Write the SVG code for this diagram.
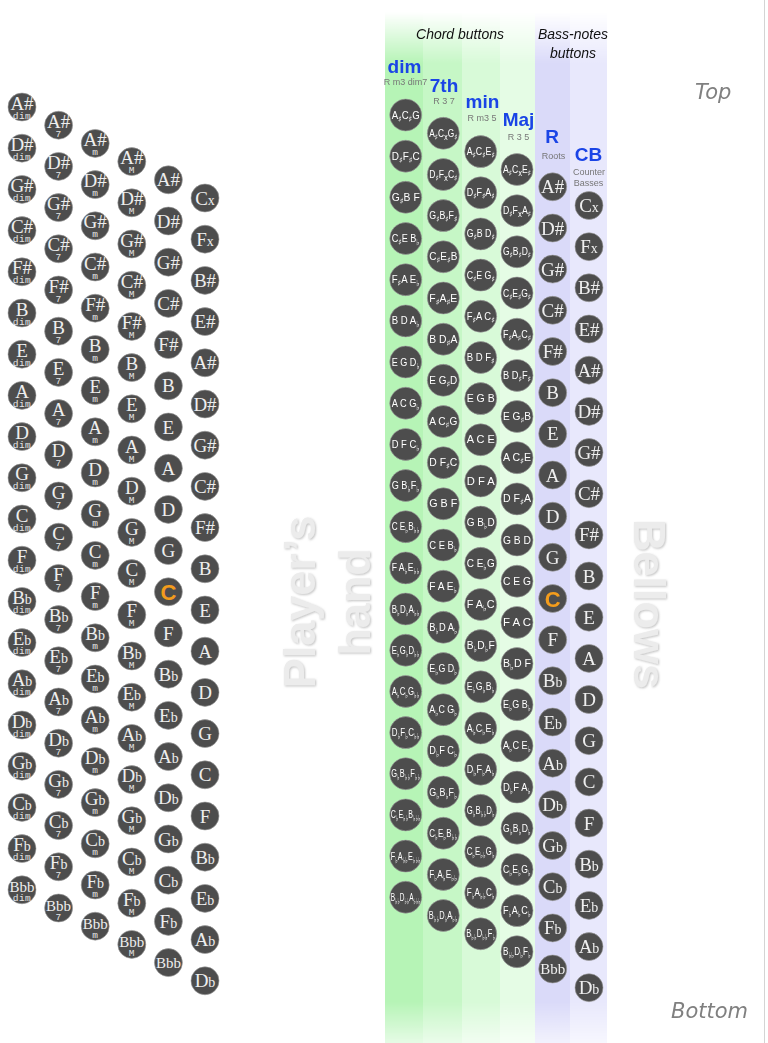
<svg xmlns="http://www.w3.org/2000/svg" width="768" height="1043" viewBox="0 0 768 1043">
<style>
.b{fill:#4d4d4d;stroke:#a0a0a0;stroke-width:.6}
.t{font-family:"Liberation Serif","Times New Roman",serif;font-size:19px;fill:#eeeeee;text-anchor:middle}
.s{font-family:"Liberation Mono","Courier New",monospace;font-size:9.5px;letter-spacing:.4px;fill:#e6e6e6}
.k{font-size:14px}
.z{font-size:15px}
.o{font-family:"Liberation Sans",Arial,sans-serif;font-weight:bold;font-size:22px;fill:#f39c1c;text-anchor:middle}
.c{font-family:"Liberation Sans","DejaVu Sans",sans-serif;font-size:11px;fill:#fff;text-anchor:middle}
.u{font-family:"DejaVu Sans",sans-serif;font-size:8.5px;baseline-shift:-3px}
.h{font-family:"Liberation Sans",Arial,sans-serif;font-style:italic;font-size:14px;fill:#111;text-anchor:middle}
.bl{font-family:"Liberation Sans",Arial,sans-serif;font-weight:bold;font-size:19px;fill:#1a44e6;text-anchor:middle}
.g{font-family:"Liberation Sans",Arial,sans-serif;font-size:9px;fill:#777;text-anchor:middle}
.w{font-family:"Liberation Sans",Arial,sans-serif;font-weight:bold;font-size:45px;fill:#ececec;text-anchor:middle}
.tb{font-family:"DejaVu Sans",sans-serif;font-style:italic;font-size:21px;fill:#808080}
</style>
<defs>
<linearGradient id="fade" gradientUnits="userSpaceOnUse" x1="0" y1="12" x2="0" y2="1043">
<stop offset="0" stop-color="#fff" stop-opacity="0"/>
<stop offset="0.05" stop-color="#fff" stop-opacity="1"/>
<stop offset="0.96" stop-color="#fff" stop-opacity="1"/>
<stop offset="1" stop-color="#fff" stop-opacity="0.35"/>
</linearGradient>
<mask id="m"><rect x="380" y="0" width="240" height="1043" fill="url(#fade)"/></mask>
<filter id="sh" x="-20%" y="-20%" width="140%" height="140%"><feDropShadow dx="1" dy="1" stdDeviation="1.2" flood-color="#999" flood-opacity="0.6"/></filter>
</defs>
<rect width="768" height="1043" fill="#fff"/>
<line x1="764.5" y1="0" x2="764.5" y2="1043" stroke="#d4d4d4" stroke-width="1"/>
<g id="strips" mask="url(#m)">
<rect x="385" y="12" width="38" height="1031" fill="#b6f4b6"/>
<rect x="423" y="12" width="39" height="1031" fill="#c6f7c6"/>
<rect x="462" y="12" width="38" height="1031" fill="#d8fad8"/>
<rect x="500" y="12" width="35" height="1031" fill="#e5fce5"/>
<rect x="535" y="12" width="35" height="1031" fill="#dadaf9"/>
<rect x="570" y="12" width="37" height="1031" fill="#e8e8fc"/>
</g>
<g id="watermarks" filter="url(#sh)">
<text class="w" transform="translate(315,602) rotate(-90)">Player’s<tspan x="0" dy="55">hand</tspan></text>
<text class="w" transform="translate(634,604) rotate(90)">Bellows</text>
</g>
<g id="labels">
<text class="tb" x="695" y="99">Top</text>
<text class="tb" x="671" y="1018">Bottom</text>
<text class="h" x="460" y="39">Chord buttons</text>
<text class="h" x="573" y="39">Bass-notes<tspan x="573" y="58">buttons</tspan></text>
<text class="bl" x="404.5" y="73">dim</text><text class="g" x="405.5" y="85">R m3 dim7</text>
<text class="bl" x="444" y="92">7th</text><text class="g" x="444" y="104">R 3 7</text>
<text class="bl" x="482.5" y="108">min</text><text class="g" x="482" y="121">R m3 5</text>
<text class="bl" x="518.5" y="126">Maj</text><text class="g" x="518.5" y="140">R 3 5</text>
<text class="bl" x="552" y="143">R</text><text class="g" x="553.5" y="159">Roots</text>
<text class="bl" x="588.5" y="161">CB</text><text class="g" x="589" y="175">Counter<tspan x="588.5" y="186">Basses</tspan></text>
</g>
<g id="connectors"/>
<g id="left-dim">
<g id="ld01" transform="translate(22,107)"><circle class="b" r="14"/><text class="t" y="2.5">A#<tspan class="s" x="0" y="11.5">dim</tspan></text></g>
<g id="ld02" transform="translate(22,148.2)"><circle class="b" r="14"/><text class="t" y="2.5">D#<tspan class="s" x="0" y="11.5">dim</tspan></text></g>
<g id="ld03" transform="translate(22,189.4)"><circle class="b" r="14"/><text class="t" y="2.5">G#<tspan class="s" x="0" y="11.5">dim</tspan></text></g>
<g id="ld04" transform="translate(22,230.6)"><circle class="b" r="14"/><text class="t" y="2.5">C#<tspan class="s" x="0" y="11.5">dim</tspan></text></g>
<g id="ld05" transform="translate(22,271.8)"><circle class="b" r="14"/><text class="t" y="2.5">F#<tspan class="s" x="0" y="11.5">dim</tspan></text></g>
<g id="ld06" transform="translate(22,313)"><circle class="b" r="14"/><text class="t" y="2.5">B<tspan class="s" x="0" y="11.5">dim</tspan></text></g>
<g id="ld07" transform="translate(22,354.2)"><circle class="b" r="14"/><text class="t" y="2.5">E<tspan class="s" x="0" y="11.5">dim</tspan></text></g>
<g id="ld08" transform="translate(22,395.4)"><circle class="b" r="14"/><text class="t" y="2.5">A<tspan class="s" x="0" y="11.5">dim</tspan></text></g>
<g id="ld09" transform="translate(22,436.6)"><circle class="b" r="14"/><text class="t" y="2.5">D<tspan class="s" x="0" y="11.5">dim</tspan></text></g>
<g id="ld10" transform="translate(22,477.8)"><circle class="b" r="14"/><text class="t" y="2.5">G<tspan class="s" x="0" y="11.5">dim</tspan></text></g>
<g id="ld11" transform="translate(22,519)"><circle class="b" r="14"/><text class="t" y="2.5">C<tspan class="s" x="0" y="11.5">dim</tspan></text></g>
<g id="ld12" transform="translate(22,560.2)"><circle class="b" r="14"/><text class="t" y="2.5">F<tspan class="s" x="0" y="11.5">dim</tspan></text></g>
<g id="ld13" transform="translate(22,601.4)"><circle class="b" r="14"/><text class="t" y="2.5">B<tspan class="k">b</tspan><tspan class="s" x="0" y="11.5">dim</tspan></text></g>
<g id="ld14" transform="translate(22,642.6)"><circle class="b" r="14"/><text class="t" y="2.5">E<tspan class="k">b</tspan><tspan class="s" x="0" y="11.5">dim</tspan></text></g>
<g id="ld15" transform="translate(22,683.8)"><circle class="b" r="14"/><text class="t" y="2.5">A<tspan class="k">b</tspan><tspan class="s" x="0" y="11.5">dim</tspan></text></g>
<g id="ld16" transform="translate(22,725)"><circle class="b" r="14"/><text class="t" y="2.5">D<tspan class="k">b</tspan><tspan class="s" x="0" y="11.5">dim</tspan></text></g>
<g id="ld17" transform="translate(22,766.2)"><circle class="b" r="14"/><text class="t" y="2.5">G<tspan class="k">b</tspan><tspan class="s" x="0" y="11.5">dim</tspan></text></g>
<g id="ld18" transform="translate(22,807.4)"><circle class="b" r="14"/><text class="t" y="2.5">C<tspan class="k">b</tspan><tspan class="s" x="0" y="11.5">dim</tspan></text></g>
<g id="ld19" transform="translate(22,848.6)"><circle class="b" r="14"/><text class="t" y="2.5">F<tspan class="k">b</tspan><tspan class="s" x="0" y="11.5">dim</tspan></text></g>
<g id="ld20" transform="translate(22,889.8)"><circle class="b" r="14"/><text class="t z" y="2.5">Bbb<tspan class="s" x="0" y="11.5">dim</tspan></text></g>
</g>
<g id="left-7th">
<g id="l701" transform="translate(58.6,125.2)"><circle class="b" r="14"/><text class="t" y="2.5">A#<tspan class="s" x="0" y="11.5">7</tspan></text></g>
<g id="l702" transform="translate(58.6,166.4)"><circle class="b" r="14"/><text class="t" y="2.5">D#<tspan class="s" x="0" y="11.5">7</tspan></text></g>
<g id="l703" transform="translate(58.6,207.6)"><circle class="b" r="14"/><text class="t" y="2.5">G#<tspan class="s" x="0" y="11.5">7</tspan></text></g>
<g id="l704" transform="translate(58.6,248.8)"><circle class="b" r="14"/><text class="t" y="2.5">C#<tspan class="s" x="0" y="11.5">7</tspan></text></g>
<g id="l705" transform="translate(58.6,290)"><circle class="b" r="14"/><text class="t" y="2.5">F#<tspan class="s" x="0" y="11.5">7</tspan></text></g>
<g id="l706" transform="translate(58.6,331.2)"><circle class="b" r="14"/><text class="t" y="2.5">B<tspan class="s" x="0" y="11.5">7</tspan></text></g>
<g id="l707" transform="translate(58.6,372.4)"><circle class="b" r="14"/><text class="t" y="2.5">E<tspan class="s" x="0" y="11.5">7</tspan></text></g>
<g id="l708" transform="translate(58.6,413.6)"><circle class="b" r="14"/><text class="t" y="2.5">A<tspan class="s" x="0" y="11.5">7</tspan></text></g>
<g id="l709" transform="translate(58.6,454.8)"><circle class="b" r="14"/><text class="t" y="2.5">D<tspan class="s" x="0" y="11.5">7</tspan></text></g>
<g id="l710" transform="translate(58.6,496)"><circle class="b" r="14"/><text class="t" y="2.5">G<tspan class="s" x="0" y="11.5">7</tspan></text></g>
<g id="l711" transform="translate(58.6,537.2)"><circle class="b" r="14"/><text class="t" y="2.5">C<tspan class="s" x="0" y="11.5">7</tspan></text></g>
<g id="l712" transform="translate(58.6,578.4)"><circle class="b" r="14"/><text class="t" y="2.5">F<tspan class="s" x="0" y="11.5">7</tspan></text></g>
<g id="l713" transform="translate(58.6,619.6)"><circle class="b" r="14"/><text class="t" y="2.5">B<tspan class="k">b</tspan><tspan class="s" x="0" y="11.5">7</tspan></text></g>
<g id="l714" transform="translate(58.6,660.8)"><circle class="b" r="14"/><text class="t" y="2.5">E<tspan class="k">b</tspan><tspan class="s" x="0" y="11.5">7</tspan></text></g>
<g id="l715" transform="translate(58.6,702)"><circle class="b" r="14"/><text class="t" y="2.5">A<tspan class="k">b</tspan><tspan class="s" x="0" y="11.5">7</tspan></text></g>
<g id="l716" transform="translate(58.6,743.2)"><circle class="b" r="14"/><text class="t" y="2.5">D<tspan class="k">b</tspan><tspan class="s" x="0" y="11.5">7</tspan></text></g>
<g id="l717" transform="translate(58.6,784.4)"><circle class="b" r="14"/><text class="t" y="2.5">G<tspan class="k">b</tspan><tspan class="s" x="0" y="11.5">7</tspan></text></g>
<g id="l718" transform="translate(58.6,825.6)"><circle class="b" r="14"/><text class="t" y="2.5">C<tspan class="k">b</tspan><tspan class="s" x="0" y="11.5">7</tspan></text></g>
<g id="l719" transform="translate(58.6,866.8)"><circle class="b" r="14"/><text class="t" y="2.5">F<tspan class="k">b</tspan><tspan class="s" x="0" y="11.5">7</tspan></text></g>
<g id="l720" transform="translate(58.6,908)"><circle class="b" r="14"/><text class="t z" y="2.5">Bbb<tspan class="s" x="0" y="11.5">7</tspan></text></g>
</g>
<g id="left-min">
<g id="lm01" transform="translate(95.2,143.4)"><circle class="b" r="14"/><text class="t" y="2.5">A#<tspan class="s" x="0" y="11.5">m</tspan></text></g>
<g id="lm02" transform="translate(95.2,184.6)"><circle class="b" r="14"/><text class="t" y="2.5">D#<tspan class="s" x="0" y="11.5">m</tspan></text></g>
<g id="lm03" transform="translate(95.2,225.8)"><circle class="b" r="14"/><text class="t" y="2.5">G#<tspan class="s" x="0" y="11.5">m</tspan></text></g>
<g id="lm04" transform="translate(95.2,267)"><circle class="b" r="14"/><text class="t" y="2.5">C#<tspan class="s" x="0" y="11.5">m</tspan></text></g>
<g id="lm05" transform="translate(95.2,308.2)"><circle class="b" r="14"/><text class="t" y="2.5">F#<tspan class="s" x="0" y="11.5">m</tspan></text></g>
<g id="lm06" transform="translate(95.2,349.4)"><circle class="b" r="14"/><text class="t" y="2.5">B<tspan class="s" x="0" y="11.5">m</tspan></text></g>
<g id="lm07" transform="translate(95.2,390.6)"><circle class="b" r="14"/><text class="t" y="2.5">E<tspan class="s" x="0" y="11.5">m</tspan></text></g>
<g id="lm08" transform="translate(95.2,431.8)"><circle class="b" r="14"/><text class="t" y="2.5">A<tspan class="s" x="0" y="11.5">m</tspan></text></g>
<g id="lm09" transform="translate(95.2,473)"><circle class="b" r="14"/><text class="t" y="2.5">D<tspan class="s" x="0" y="11.5">m</tspan></text></g>
<g id="lm10" transform="translate(95.2,514.2)"><circle class="b" r="14"/><text class="t" y="2.5">G<tspan class="s" x="0" y="11.5">m</tspan></text></g>
<g id="lm11" transform="translate(95.2,555.4)"><circle class="b" r="14"/><text class="t" y="2.5">C<tspan class="s" x="0" y="11.5">m</tspan></text></g>
<g id="lm12" transform="translate(95.2,596.6)"><circle class="b" r="14"/><text class="t" y="2.5">F<tspan class="s" x="0" y="11.5">m</tspan></text></g>
<g id="lm13" transform="translate(95.2,637.8)"><circle class="b" r="14"/><text class="t" y="2.5">B<tspan class="k">b</tspan><tspan class="s" x="0" y="11.5">m</tspan></text></g>
<g id="lm14" transform="translate(95.2,679)"><circle class="b" r="14"/><text class="t" y="2.5">E<tspan class="k">b</tspan><tspan class="s" x="0" y="11.5">m</tspan></text></g>
<g id="lm15" transform="translate(95.2,720.2)"><circle class="b" r="14"/><text class="t" y="2.5">A<tspan class="k">b</tspan><tspan class="s" x="0" y="11.5">m</tspan></text></g>
<g id="lm16" transform="translate(95.2,761.4)"><circle class="b" r="14"/><text class="t" y="2.5">D<tspan class="k">b</tspan><tspan class="s" x="0" y="11.5">m</tspan></text></g>
<g id="lm17" transform="translate(95.2,802.6)"><circle class="b" r="14"/><text class="t" y="2.5">G<tspan class="k">b</tspan><tspan class="s" x="0" y="11.5">m</tspan></text></g>
<g id="lm18" transform="translate(95.2,843.8)"><circle class="b" r="14"/><text class="t" y="2.5">C<tspan class="k">b</tspan><tspan class="s" x="0" y="11.5">m</tspan></text></g>
<g id="lm19" transform="translate(95.2,885)"><circle class="b" r="14"/><text class="t" y="2.5">F<tspan class="k">b</tspan><tspan class="s" x="0" y="11.5">m</tspan></text></g>
<g id="lm20" transform="translate(95.2,926.2)"><circle class="b" r="14"/><text class="t z" y="2.5">Bbb<tspan class="s" x="0" y="11.5">m</tspan></text></g>
</g>
<g id="left-maj">
<g id="lM01" transform="translate(131.8,161.6)"><circle class="b" r="14"/><text class="t" y="2.5">A#<tspan class="s" x="0" y="11.5">M</tspan></text></g>
<g id="lM02" transform="translate(131.8,202.8)"><circle class="b" r="14"/><text class="t" y="2.5">D#<tspan class="s" x="0" y="11.5">M</tspan></text></g>
<g id="lM03" transform="translate(131.8,244)"><circle class="b" r="14"/><text class="t" y="2.5">G#<tspan class="s" x="0" y="11.5">M</tspan></text></g>
<g id="lM04" transform="translate(131.8,285.2)"><circle class="b" r="14"/><text class="t" y="2.5">C#<tspan class="s" x="0" y="11.5">M</tspan></text></g>
<g id="lM05" transform="translate(131.8,326.4)"><circle class="b" r="14"/><text class="t" y="2.5">F#<tspan class="s" x="0" y="11.5">M</tspan></text></g>
<g id="lM06" transform="translate(131.8,367.6)"><circle class="b" r="14"/><text class="t" y="2.5">B<tspan class="s" x="0" y="11.5">M</tspan></text></g>
<g id="lM07" transform="translate(131.8,408.8)"><circle class="b" r="14"/><text class="t" y="2.5">E<tspan class="s" x="0" y="11.5">M</tspan></text></g>
<g id="lM08" transform="translate(131.8,450)"><circle class="b" r="14"/><text class="t" y="2.5">A<tspan class="s" x="0" y="11.5">M</tspan></text></g>
<g id="lM09" transform="translate(131.8,491.2)"><circle class="b" r="14"/><text class="t" y="2.5">D<tspan class="s" x="0" y="11.5">M</tspan></text></g>
<g id="lM10" transform="translate(131.8,532.4)"><circle class="b" r="14"/><text class="t" y="2.5">G<tspan class="s" x="0" y="11.5">M</tspan></text></g>
<g id="lM11" transform="translate(131.8,573.6)"><circle class="b" r="14"/><text class="t" y="2.5">C<tspan class="s" x="0" y="11.5">M</tspan></text></g>
<g id="lM12" transform="translate(131.8,614.8)"><circle class="b" r="14"/><text class="t" y="2.5">F<tspan class="s" x="0" y="11.5">M</tspan></text></g>
<g id="lM13" transform="translate(131.8,656)"><circle class="b" r="14"/><text class="t" y="2.5">B<tspan class="k">b</tspan><tspan class="s" x="0" y="11.5">M</tspan></text></g>
<g id="lM14" transform="translate(131.8,697.2)"><circle class="b" r="14"/><text class="t" y="2.5">E<tspan class="k">b</tspan><tspan class="s" x="0" y="11.5">M</tspan></text></g>
<g id="lM15" transform="translate(131.8,738.4)"><circle class="b" r="14"/><text class="t" y="2.5">A<tspan class="k">b</tspan><tspan class="s" x="0" y="11.5">M</tspan></text></g>
<g id="lM16" transform="translate(131.8,779.6)"><circle class="b" r="14"/><text class="t" y="2.5">D<tspan class="k">b</tspan><tspan class="s" x="0" y="11.5">M</tspan></text></g>
<g id="lM17" transform="translate(131.8,820.8)"><circle class="b" r="14"/><text class="t" y="2.5">G<tspan class="k">b</tspan><tspan class="s" x="0" y="11.5">M</tspan></text></g>
<g id="lM18" transform="translate(131.8,862)"><circle class="b" r="14"/><text class="t" y="2.5">C<tspan class="k">b</tspan><tspan class="s" x="0" y="11.5">M</tspan></text></g>
<g id="lM19" transform="translate(131.8,903.2)"><circle class="b" r="14"/><text class="t" y="2.5">F<tspan class="k">b</tspan><tspan class="s" x="0" y="11.5">M</tspan></text></g>
<g id="lM20" transform="translate(131.8,944.4)"><circle class="b" r="14"/><text class="t z" y="2.5">Bbb<tspan class="s" x="0" y="11.5">M</tspan></text></g>
</g>
<g id="left-roots">
<g id="lr01" transform="translate(168.4,179.8)"><circle class="b" r="14"/><text class="t" y="6.5">A#</text></g>
<g id="lr02" transform="translate(168.4,221)"><circle class="b" r="14"/><text class="t" y="6.5">D#</text></g>
<g id="lr03" transform="translate(168.4,262.2)"><circle class="b" r="14"/><text class="t" y="6.5">G#</text></g>
<g id="lr04" transform="translate(168.4,303.4)"><circle class="b" r="14"/><text class="t" y="6.5">C#</text></g>
<g id="lr05" transform="translate(168.4,344.6)"><circle class="b" r="14"/><text class="t" y="6.5">F#</text></g>
<g id="lr06" transform="translate(168.4,385.8)"><circle class="b" r="14"/><text class="t" y="6.5">B</text></g>
<g id="lr07" transform="translate(168.4,427)"><circle class="b" r="14"/><text class="t" y="6.5">E</text></g>
<g id="lr08" transform="translate(168.4,468.2)"><circle class="b" r="14"/><text class="t" y="6.5">A</text></g>
<g id="lr09" transform="translate(168.4,509.4)"><circle class="b" r="14"/><text class="t" y="6.5">D</text></g>
<g id="lr10" transform="translate(168.4,550.6)"><circle class="b" r="14"/><text class="t" y="6.5">G</text></g>
<g id="lr11" transform="translate(168.4,591.8)"><circle class="b" r="14"/><text class="o" y="8">C</text></g>
<g id="lr12" transform="translate(168.4,633)"><circle class="b" r="14"/><text class="t" y="6.5">F</text></g>
<g id="lr13" transform="translate(168.4,674.2)"><circle class="b" r="14"/><text class="t" y="6.5">B<tspan class="k">b</tspan></text></g>
<g id="lr14" transform="translate(168.4,715.4)"><circle class="b" r="14"/><text class="t" y="6.5">E<tspan class="k">b</tspan></text></g>
<g id="lr15" transform="translate(168.4,756.6)"><circle class="b" r="14"/><text class="t" y="6.5">A<tspan class="k">b</tspan></text></g>
<g id="lr16" transform="translate(168.4,797.8)"><circle class="b" r="14"/><text class="t" y="6.5">D<tspan class="k">b</tspan></text></g>
<g id="lr17" transform="translate(168.4,839)"><circle class="b" r="14"/><text class="t" y="6.5">G<tspan class="k">b</tspan></text></g>
<g id="lr18" transform="translate(168.4,880.2)"><circle class="b" r="14"/><text class="t" y="6.5">C<tspan class="k">b</tspan></text></g>
<g id="lr19" transform="translate(168.4,921.4)"><circle class="b" r="14"/><text class="t" y="6.5">F<tspan class="k">b</tspan></text></g>
<g id="lr20" transform="translate(168.4,962.6)"><circle class="b" r="14"/><text class="t z" y="5">Bbb</text></g>
</g>
<g id="left-cb">
<g id="lc01" transform="translate(205,198)"><circle class="b" r="14"/><text class="t" y="6.5">C<tspan class="k">x</tspan></text></g>
<g id="lc02" transform="translate(205,239.2)"><circle class="b" r="14"/><text class="t" y="6.5">F<tspan class="k">x</tspan></text></g>
<g id="lc03" transform="translate(205,280.4)"><circle class="b" r="14"/><text class="t" y="6.5">B#</text></g>
<g id="lc04" transform="translate(205,321.6)"><circle class="b" r="14"/><text class="t" y="6.5">E#</text></g>
<g id="lc05" transform="translate(205,362.8)"><circle class="b" r="14"/><text class="t" y="6.5">A#</text></g>
<g id="lc06" transform="translate(205,404)"><circle class="b" r="14"/><text class="t" y="6.5">D#</text></g>
<g id="lc07" transform="translate(205,445.2)"><circle class="b" r="14"/><text class="t" y="6.5">G#</text></g>
<g id="lc08" transform="translate(205,486.4)"><circle class="b" r="14"/><text class="t" y="6.5">C#</text></g>
<g id="lc09" transform="translate(205,527.6)"><circle class="b" r="14"/><text class="t" y="6.5">F#</text></g>
<g id="lc10" transform="translate(205,568.8)"><circle class="b" r="14"/><text class="t" y="6.5">B</text></g>
<g id="lc11" transform="translate(205,610)"><circle class="b" r="14"/><text class="t" y="6.5">E</text></g>
<g id="lc12" transform="translate(205,651.2)"><circle class="b" r="14"/><text class="t" y="6.5">A</text></g>
<g id="lc13" transform="translate(205,692.4)"><circle class="b" r="14"/><text class="t" y="6.5">D</text></g>
<g id="lc14" transform="translate(205,733.6)"><circle class="b" r="14"/><text class="t" y="6.5">G</text></g>
<g id="lc15" transform="translate(205,774.8)"><circle class="b" r="14"/><text class="t" y="6.5">C</text></g>
<g id="lc16" transform="translate(205,816)"><circle class="b" r="14"/><text class="t" y="6.5">F</text></g>
<g id="lc17" transform="translate(205,857.2)"><circle class="b" r="14"/><text class="t" y="6.5">B<tspan class="k">b</tspan></text></g>
<g id="lc18" transform="translate(205,898.4)"><circle class="b" r="14"/><text class="t" y="6.5">E<tspan class="k">b</tspan></text></g>
<g id="lc19" transform="translate(205,939.6)"><circle class="b" r="14"/><text class="t" y="6.5">A<tspan class="k">b</tspan></text></g>
<g id="lc20" transform="translate(205,980.8)"><circle class="b" r="14"/><text class="t" y="6.5">D<tspan class="k">b</tspan></text></g>
</g>
<g id="right-dim">
<g id="rd01" transform="translate(405.7,115)"><circle class="b" r="16"/><text class="c" y="3.5" textLength="28" lengthAdjust="spacingAndGlyphs">A<tspan class="u">♯</tspan>C<tspan class="u">♯</tspan>G</text></g>
<g id="rd02" transform="translate(405.7,156.2)"><circle class="b" r="16"/><text class="c" y="3.5" textLength="28" lengthAdjust="spacingAndGlyphs">D<tspan class="u">♯</tspan>F<tspan class="u">♯</tspan>C</text></g>
<g id="rd03" transform="translate(405.7,197.3)"><circle class="b" r="16"/><text class="c" y="3.5" textLength="28" lengthAdjust="spacingAndGlyphs">G<tspan class="u">♯</tspan>B F</text></g>
<g id="rd04" transform="translate(405.7,238.5)"><circle class="b" r="16"/><text class="c" y="3.5" textLength="28" lengthAdjust="spacingAndGlyphs">C<tspan class="u">♯</tspan>E B<tspan class="u">♭</tspan></text></g>
<g id="rd05" transform="translate(405.7,279.7)"><circle class="b" r="16"/><text class="c" y="3.5" textLength="28" lengthAdjust="spacingAndGlyphs">F<tspan class="u">♯</tspan>A E<tspan class="u">♭</tspan></text></g>
<g id="rd06" transform="translate(405.7,320.9)"><circle class="b" r="16"/><text class="c" y="3.5" textLength="28" lengthAdjust="spacingAndGlyphs">B D A<tspan class="u">♭</tspan></text></g>
<g id="rd07" transform="translate(405.7,362)"><circle class="b" r="16"/><text class="c" y="3.5" textLength="28" lengthAdjust="spacingAndGlyphs">E G D<tspan class="u">♭</tspan></text></g>
<g id="rd08" transform="translate(405.7,403.2)"><circle class="b" r="16"/><text class="c" y="3.5" textLength="28" lengthAdjust="spacingAndGlyphs">A C G<tspan class="u">♭</tspan></text></g>
<g id="rd09" transform="translate(405.7,444.4)"><circle class="b" r="16"/><text class="c" y="3.5" textLength="28" lengthAdjust="spacingAndGlyphs">D F C<tspan class="u">♭</tspan></text></g>
<g id="rd10" transform="translate(405.7,485.5)"><circle class="b" r="16"/><text class="c" y="3.5" textLength="28" lengthAdjust="spacingAndGlyphs">G B<tspan class="u">♭</tspan>F<tspan class="u">♭</tspan></text></g>
<g id="rd11" transform="translate(405.7,526.7)"><circle class="b" r="16"/><text class="c" y="3.5" textLength="28" lengthAdjust="spacingAndGlyphs">C E<tspan class="u">♭</tspan>B<tspan class="u">♭♭</tspan></text></g>
<g id="rd12" transform="translate(405.7,567.9)"><circle class="b" r="16"/><text class="c" y="3.5" textLength="28" lengthAdjust="spacingAndGlyphs">F A<tspan class="u">♭</tspan>E<tspan class="u">♭♭</tspan></text></g>
<g id="rd13" transform="translate(405.7,609)"><circle class="b" r="16"/><text class="c" y="3.5" textLength="28" lengthAdjust="spacingAndGlyphs">B<tspan class="u">♭</tspan>D<tspan class="u">♭</tspan>A<tspan class="u">♭♭</tspan></text></g>
<g id="rd14" transform="translate(405.7,650.2)"><circle class="b" r="16"/><text class="c" y="3.5" textLength="28" lengthAdjust="spacingAndGlyphs">E<tspan class="u">♭</tspan>G<tspan class="u">♭</tspan>D<tspan class="u">♭♭</tspan></text></g>
<g id="rd15" transform="translate(405.7,691.4)"><circle class="b" r="16"/><text class="c" y="3.5" textLength="28" lengthAdjust="spacingAndGlyphs">A<tspan class="u">♭</tspan>C<tspan class="u">♭</tspan>G<tspan class="u">♭♭</tspan></text></g>
<g id="rd16" transform="translate(405.7,732.6)"><circle class="b" r="16"/><text class="c" y="3.5" textLength="28" lengthAdjust="spacingAndGlyphs">D<tspan class="u">♭</tspan>F<tspan class="u">♭</tspan>C<tspan class="u">♭♭</tspan></text></g>
<g id="rd17" transform="translate(405.7,773.7)"><circle class="b" r="16"/><text class="c" y="3.5" textLength="29" lengthAdjust="spacingAndGlyphs">G<tspan class="u">♭</tspan>B<tspan class="u">♭♭</tspan>F<tspan class="u">♭♭</tspan></text></g>
<g id="rd18" transform="translate(405.7,814.9)"><circle class="b" r="16"/><text class="c" y="3.5" textLength="30" lengthAdjust="spacingAndGlyphs">C<tspan class="u">♭</tspan>E<tspan class="u">♭♭</tspan>B<tspan class="u">♭♭♭</tspan></text></g>
<g id="rd19" transform="translate(405.7,856.1)"><circle class="b" r="16"/><text class="c" y="3.5" textLength="30" lengthAdjust="spacingAndGlyphs">F<tspan class="u">♭</tspan>A<tspan class="u">♭♭</tspan>E<tspan class="u">♭♭♭</tspan></text></g>
<g id="rd20" transform="translate(405.7,897.2)"><circle class="b" r="16"/><text class="c" y="3.5" textLength="30" lengthAdjust="spacingAndGlyphs">B<tspan class="u">♭♭</tspan>D<tspan class="u">♭♭</tspan>A<tspan class="u">♭♭♭</tspan></text></g>
</g>
<g id="right-7th">
<g id="r701" transform="translate(443.3,133.3)"><circle class="b" r="16"/><text class="c" y="3.5" textLength="28" lengthAdjust="spacingAndGlyphs">A<tspan class="u">♯</tspan>C<tspan class="u">x</tspan>G<tspan class="u">♯</tspan></text></g>
<g id="r702" transform="translate(443.3,174.5)"><circle class="b" r="16"/><text class="c" y="3.5" textLength="28" lengthAdjust="spacingAndGlyphs">D<tspan class="u">♯</tspan>F<tspan class="u">x</tspan>C<tspan class="u">♯</tspan></text></g>
<g id="r703" transform="translate(443.3,215.6)"><circle class="b" r="16"/><text class="c" y="3.5" textLength="28" lengthAdjust="spacingAndGlyphs">G<tspan class="u">♯</tspan>B<tspan class="u">♯</tspan>F<tspan class="u">♯</tspan></text></g>
<g id="r704" transform="translate(443.3,256.8)"><circle class="b" r="16"/><text class="c" y="3.5" textLength="28" lengthAdjust="spacingAndGlyphs">C<tspan class="u">♯</tspan>E<tspan class="u">♯</tspan>B</text></g>
<g id="r705" transform="translate(443.3,298)"><circle class="b" r="16"/><text class="c" y="3.5" textLength="28" lengthAdjust="spacingAndGlyphs">F<tspan class="u">♯</tspan>A<tspan class="u">♯</tspan>E</text></g>
<g id="r706" transform="translate(443.3,339.2)"><circle class="b" r="16"/><text class="c" y="3.5" textLength="28" lengthAdjust="spacingAndGlyphs">B D<tspan class="u">♯</tspan>A</text></g>
<g id="r707" transform="translate(443.3,380.3)"><circle class="b" r="16"/><text class="c" y="3.5" textLength="28" lengthAdjust="spacingAndGlyphs">E G<tspan class="u">♯</tspan>D</text></g>
<g id="r708" transform="translate(443.3,421.5)"><circle class="b" r="16"/><text class="c" y="3.5" textLength="28" lengthAdjust="spacingAndGlyphs">A C<tspan class="u">♯</tspan>G</text></g>
<g id="r709" transform="translate(443.3,462.7)"><circle class="b" r="16"/><text class="c" y="3.5" textLength="28" lengthAdjust="spacingAndGlyphs">D F<tspan class="u">♯</tspan>C</text></g>
<g id="r710" transform="translate(443.3,503.8)"><circle class="b" r="16"/><text class="c" y="3.5" textLength="28" lengthAdjust="spacingAndGlyphs">G B F</text></g>
<g id="r711" transform="translate(443.3,545)"><circle class="b" r="16"/><text class="c" y="3.5" textLength="28" lengthAdjust="spacingAndGlyphs">C E B<tspan class="u">♭</tspan></text></g>
<g id="r712" transform="translate(443.3,586.2)"><circle class="b" r="16"/><text class="c" y="3.5" textLength="28" lengthAdjust="spacingAndGlyphs">F A E<tspan class="u">♭</tspan></text></g>
<g id="r713" transform="translate(443.3,627.3)"><circle class="b" r="16"/><text class="c" y="3.5" textLength="28" lengthAdjust="spacingAndGlyphs">B<tspan class="u">♭</tspan>D A<tspan class="u">♭</tspan></text></g>
<g id="r714" transform="translate(443.3,668.5)"><circle class="b" r="16"/><text class="c" y="3.5" textLength="28" lengthAdjust="spacingAndGlyphs">E<tspan class="u">♭</tspan>G D<tspan class="u">♭</tspan></text></g>
<g id="r715" transform="translate(443.3,709.7)"><circle class="b" r="16"/><text class="c" y="3.5" textLength="28" lengthAdjust="spacingAndGlyphs">A<tspan class="u">♭</tspan>C G<tspan class="u">♭</tspan></text></g>
<g id="r716" transform="translate(443.3,750.9)"><circle class="b" r="16"/><text class="c" y="3.5" textLength="28" lengthAdjust="spacingAndGlyphs">D<tspan class="u">♭</tspan>F C<tspan class="u">♭</tspan></text></g>
<g id="r717" transform="translate(443.3,792)"><circle class="b" r="16"/><text class="c" y="3.5" textLength="28" lengthAdjust="spacingAndGlyphs">G<tspan class="u">♭</tspan>B<tspan class="u">♭</tspan>F<tspan class="u">♭</tspan></text></g>
<g id="r718" transform="translate(443.3,833.2)"><circle class="b" r="16"/><text class="c" y="3.5" textLength="28" lengthAdjust="spacingAndGlyphs">C<tspan class="u">♭</tspan>E<tspan class="u">♭</tspan>B<tspan class="u">♭♭</tspan></text></g>
<g id="r719" transform="translate(443.3,874.4)"><circle class="b" r="16"/><text class="c" y="3.5" textLength="28" lengthAdjust="spacingAndGlyphs">F<tspan class="u">♭</tspan>A<tspan class="u">♭</tspan>E<tspan class="u">♭♭</tspan></text></g>
<g id="r720" transform="translate(443.3,915.5)"><circle class="b" r="16"/><text class="c" y="3.5" textLength="29" lengthAdjust="spacingAndGlyphs">B<tspan class="u">♭♭</tspan>D<tspan class="u">♭</tspan>A<tspan class="u">♭♭</tspan></text></g>
</g>
<g id="right-min">
<g id="rm01" transform="translate(480.7,151.6)"><circle class="b" r="16"/><text class="c" y="3.5" textLength="28" lengthAdjust="spacingAndGlyphs">A<tspan class="u">♯</tspan>C<tspan class="u">♯</tspan>E<tspan class="u">♯</tspan></text></g>
<g id="rm02" transform="translate(480.7,192.8)"><circle class="b" r="16"/><text class="c" y="3.5" textLength="28" lengthAdjust="spacingAndGlyphs">D<tspan class="u">♯</tspan>F<tspan class="u">♯</tspan>A<tspan class="u">♯</tspan></text></g>
<g id="rm03" transform="translate(480.7,233.9)"><circle class="b" r="16"/><text class="c" y="3.5" textLength="28" lengthAdjust="spacingAndGlyphs">G<tspan class="u">♯</tspan>B D<tspan class="u">♯</tspan></text></g>
<g id="rm04" transform="translate(480.7,275.1)"><circle class="b" r="16"/><text class="c" y="3.5" textLength="28" lengthAdjust="spacingAndGlyphs">C<tspan class="u">♯</tspan>E G<tspan class="u">♯</tspan></text></g>
<g id="rm05" transform="translate(480.7,316.3)"><circle class="b" r="16"/><text class="c" y="3.5" textLength="28" lengthAdjust="spacingAndGlyphs">F<tspan class="u">♯</tspan>A C<tspan class="u">♯</tspan></text></g>
<g id="rm06" transform="translate(480.7,357.5)"><circle class="b" r="16"/><text class="c" y="3.5" textLength="28" lengthAdjust="spacingAndGlyphs">B D F<tspan class="u">♯</tspan></text></g>
<g id="rm07" transform="translate(480.7,398.6)"><circle class="b" r="16"/><text class="c" y="3.5" textLength="28" lengthAdjust="spacingAndGlyphs">E G B</text></g>
<g id="rm08" transform="translate(480.7,439.8)"><circle class="b" r="16"/><text class="c" y="3.5" textLength="28" lengthAdjust="spacingAndGlyphs">A C E</text></g>
<g id="rm09" transform="translate(480.7,481)"><circle class="b" r="16"/><text class="c" y="3.5" textLength="28" lengthAdjust="spacingAndGlyphs">D F A</text></g>
<g id="rm10" transform="translate(480.7,522.1)"><circle class="b" r="16"/><text class="c" y="3.5" textLength="28" lengthAdjust="spacingAndGlyphs">G B<tspan class="u">♭</tspan>D</text></g>
<g id="rm11" transform="translate(480.7,563.3)"><circle class="b" r="16"/><text class="c" y="3.5" textLength="28" lengthAdjust="spacingAndGlyphs">C E<tspan class="u">♭</tspan>G</text></g>
<g id="rm12" transform="translate(480.7,604.5)"><circle class="b" r="16"/><text class="c" y="3.5" textLength="28" lengthAdjust="spacingAndGlyphs">F A<tspan class="u">♭</tspan>C</text></g>
<g id="rm13" transform="translate(480.7,645.6)"><circle class="b" r="16"/><text class="c" y="3.5" textLength="28" lengthAdjust="spacingAndGlyphs">B<tspan class="u">♭</tspan>D<tspan class="u">♭</tspan>F</text></g>
<g id="rm14" transform="translate(480.7,686.8)"><circle class="b" r="16"/><text class="c" y="3.5" textLength="28" lengthAdjust="spacingAndGlyphs">E<tspan class="u">♭</tspan>G<tspan class="u">♭</tspan>B<tspan class="u">♭</tspan></text></g>
<g id="rm15" transform="translate(480.7,728)"><circle class="b" r="16"/><text class="c" y="3.5" textLength="28" lengthAdjust="spacingAndGlyphs">A<tspan class="u">♭</tspan>C<tspan class="u">♭</tspan>E<tspan class="u">♭</tspan></text></g>
<g id="rm16" transform="translate(480.7,769.2)"><circle class="b" r="16"/><text class="c" y="3.5" textLength="28" lengthAdjust="spacingAndGlyphs">D<tspan class="u">♭</tspan>F<tspan class="u">♭</tspan>A<tspan class="u">♭</tspan></text></g>
<g id="rm17" transform="translate(480.7,810.3)"><circle class="b" r="16"/><text class="c" y="3.5" textLength="28" lengthAdjust="spacingAndGlyphs">G<tspan class="u">♭</tspan>B<tspan class="u">♭♭</tspan>D<tspan class="u">♭</tspan></text></g>
<g id="rm18" transform="translate(480.7,851.5)"><circle class="b" r="16"/><text class="c" y="3.5" textLength="28" lengthAdjust="spacingAndGlyphs">C<tspan class="u">♭</tspan>E<tspan class="u">♭♭</tspan>G<tspan class="u">♭</tspan></text></g>
<g id="rm19" transform="translate(480.7,892.7)"><circle class="b" r="16"/><text class="c" y="3.5" textLength="28" lengthAdjust="spacingAndGlyphs">F<tspan class="u">♭</tspan>A<tspan class="u">♭♭</tspan>C<tspan class="u">♭</tspan></text></g>
<g id="rm20" transform="translate(480.7,933.8)"><circle class="b" r="16"/><text class="c" y="3.5" textLength="29" lengthAdjust="spacingAndGlyphs">B<tspan class="u">♭♭</tspan>D<tspan class="u">♭♭</tspan>F<tspan class="u">♭</tspan></text></g>
</g>
<g id="right-maj">
<g id="rM01" transform="translate(517,169.5)"><circle class="b" r="16"/><text class="c" y="3.5" textLength="28" lengthAdjust="spacingAndGlyphs">A<tspan class="u">♯</tspan>C<tspan class="u">x</tspan>E<tspan class="u">♯</tspan></text></g>
<g id="rM02" transform="translate(517,210.7)"><circle class="b" r="16"/><text class="c" y="3.5" textLength="28" lengthAdjust="spacingAndGlyphs">D<tspan class="u">♯</tspan>F<tspan class="u">x</tspan>A<tspan class="u">♯</tspan></text></g>
<g id="rM03" transform="translate(517,251.8)"><circle class="b" r="16"/><text class="c" y="3.5" textLength="28" lengthAdjust="spacingAndGlyphs">G<tspan class="u">♯</tspan>B<tspan class="u">♯</tspan>D<tspan class="u">♯</tspan></text></g>
<g id="rM04" transform="translate(517,293)"><circle class="b" r="16"/><text class="c" y="3.5" textLength="28" lengthAdjust="spacingAndGlyphs">C<tspan class="u">♯</tspan>E<tspan class="u">♯</tspan>G<tspan class="u">♯</tspan></text></g>
<g id="rM05" transform="translate(517,334.2)"><circle class="b" r="16"/><text class="c" y="3.5" textLength="28" lengthAdjust="spacingAndGlyphs">F<tspan class="u">♯</tspan>A<tspan class="u">♯</tspan>C<tspan class="u">♯</tspan></text></g>
<g id="rM06" transform="translate(517,375.4)"><circle class="b" r="16"/><text class="c" y="3.5" textLength="28" lengthAdjust="spacingAndGlyphs">B D<tspan class="u">♯</tspan>F<tspan class="u">♯</tspan></text></g>
<g id="rM07" transform="translate(517,416.5)"><circle class="b" r="16"/><text class="c" y="3.5" textLength="28" lengthAdjust="spacingAndGlyphs">E G<tspan class="u">♯</tspan>B</text></g>
<g id="rM08" transform="translate(517,457.7)"><circle class="b" r="16"/><text class="c" y="3.5" textLength="28" lengthAdjust="spacingAndGlyphs">A C<tspan class="u">♯</tspan>E</text></g>
<g id="rM09" transform="translate(517,498.9)"><circle class="b" r="16"/><text class="c" y="3.5" textLength="28" lengthAdjust="spacingAndGlyphs">D F<tspan class="u">♯</tspan>A</text></g>
<g id="rM10" transform="translate(517,540)"><circle class="b" r="16"/><text class="c" y="3.5" textLength="28" lengthAdjust="spacingAndGlyphs">G B D</text></g>
<g id="rM11" transform="translate(517,581.2)"><circle class="b" r="16"/><text class="c" y="3.5" textLength="28" lengthAdjust="spacingAndGlyphs">C E G</text></g>
<g id="rM12" transform="translate(517,622.4)"><circle class="b" r="16"/><text class="c" y="3.5" textLength="28" lengthAdjust="spacingAndGlyphs">F A C</text></g>
<g id="rM13" transform="translate(517,663.5)"><circle class="b" r="16"/><text class="c" y="3.5" textLength="28" lengthAdjust="spacingAndGlyphs">B<tspan class="u">♭</tspan>D F</text></g>
<g id="rM14" transform="translate(517,704.7)"><circle class="b" r="16"/><text class="c" y="3.5" textLength="28" lengthAdjust="spacingAndGlyphs">E<tspan class="u">♭</tspan>G B<tspan class="u">♭</tspan></text></g>
<g id="rM15" transform="translate(517,745.9)"><circle class="b" r="16"/><text class="c" y="3.5" textLength="28" lengthAdjust="spacingAndGlyphs">A<tspan class="u">♭</tspan>C E<tspan class="u">♭</tspan></text></g>
<g id="rM16" transform="translate(517,787.1)"><circle class="b" r="16"/><text class="c" y="3.5" textLength="28" lengthAdjust="spacingAndGlyphs">D<tspan class="u">♭</tspan>F A<tspan class="u">♭</tspan></text></g>
<g id="rM17" transform="translate(517,828.2)"><circle class="b" r="16"/><text class="c" y="3.5" textLength="28" lengthAdjust="spacingAndGlyphs">G<tspan class="u">♭</tspan>B<tspan class="u">♭</tspan>D<tspan class="u">♭</tspan></text></g>
<g id="rM18" transform="translate(517,869.4)"><circle class="b" r="16"/><text class="c" y="3.5" textLength="28" lengthAdjust="spacingAndGlyphs">C<tspan class="u">♭</tspan>E<tspan class="u">♭</tspan>G<tspan class="u">♭</tspan></text></g>
<g id="rM19" transform="translate(517,910.6)"><circle class="b" r="16"/><text class="c" y="3.5" textLength="28" lengthAdjust="spacingAndGlyphs">F<tspan class="u">♭</tspan>A<tspan class="u">♭</tspan>C<tspan class="u">♭</tspan></text></g>
<g id="rM20" transform="translate(517,951.7)"><circle class="b" r="16"/><text class="c" y="3.5" textLength="28" lengthAdjust="spacingAndGlyphs">B<tspan class="u">♭♭</tspan>D<tspan class="u">♭</tspan>F<tspan class="u">♭</tspan></text></g>
</g>
<g id="right-roots">
<g id="rr01" transform="translate(552.7,186.8)"><circle class="b" r="14"/><text class="t" y="6.5">A#</text></g>
<g id="rr02" transform="translate(552.7,228)"><circle class="b" r="14"/><text class="t" y="6.5">D#</text></g>
<g id="rr03" transform="translate(552.7,269.1)"><circle class="b" r="14"/><text class="t" y="6.5">G#</text></g>
<g id="rr04" transform="translate(552.7,310.3)"><circle class="b" r="14"/><text class="t" y="6.5">C#</text></g>
<g id="rr05" transform="translate(552.7,351.5)"><circle class="b" r="14"/><text class="t" y="6.5">F#</text></g>
<g id="rr06" transform="translate(552.7,392.7)"><circle class="b" r="14"/><text class="t" y="6.5">B</text></g>
<g id="rr07" transform="translate(552.7,433.8)"><circle class="b" r="14"/><text class="t" y="6.5">E</text></g>
<g id="rr08" transform="translate(552.7,475)"><circle class="b" r="14"/><text class="t" y="6.5">A</text></g>
<g id="rr09" transform="translate(552.7,516.2)"><circle class="b" r="14"/><text class="t" y="6.5">D</text></g>
<g id="rr10" transform="translate(552.7,557.3)"><circle class="b" r="14"/><text class="t" y="6.5">G</text></g>
<g id="rr11" transform="translate(552.7,598.5)"><circle class="b" r="14"/><text class="o" y="8">C</text></g>
<g id="rr12" transform="translate(552.7,639.7)"><circle class="b" r="14"/><text class="t" y="6.5">F</text></g>
<g id="rr13" transform="translate(552.7,680.8)"><circle class="b" r="14"/><text class="t" y="6.5">B<tspan class="k">b</tspan></text></g>
<g id="rr14" transform="translate(552.7,722)"><circle class="b" r="14"/><text class="t" y="6.5">E<tspan class="k">b</tspan></text></g>
<g id="rr15" transform="translate(552.7,763.2)"><circle class="b" r="14"/><text class="t" y="6.5">A<tspan class="k">b</tspan></text></g>
<g id="rr16" transform="translate(552.7,804.4)"><circle class="b" r="14"/><text class="t" y="6.5">D<tspan class="k">b</tspan></text></g>
<g id="rr17" transform="translate(552.7,845.5)"><circle class="b" r="14"/><text class="t" y="6.5">G<tspan class="k">b</tspan></text></g>
<g id="rr18" transform="translate(552.7,886.7)"><circle class="b" r="14"/><text class="t" y="6.5">C<tspan class="k">b</tspan></text></g>
<g id="rr19" transform="translate(552.7,927.9)"><circle class="b" r="14"/><text class="t" y="6.5">F<tspan class="k">b</tspan></text></g>
<g id="rr20" transform="translate(552.7,969)"><circle class="b" r="14"/><text class="t z" y="5">Bbb</text></g>
</g>
<g id="right-cb">
<g id="rc01" transform="translate(589,205.5)"><circle class="b" r="14"/><text class="t" y="6.5">C<tspan class="k">x</tspan></text></g>
<g id="rc02" transform="translate(589,246.7)"><circle class="b" r="14"/><text class="t" y="6.5">F<tspan class="k">x</tspan></text></g>
<g id="rc03" transform="translate(589,287.8)"><circle class="b" r="14"/><text class="t" y="6.5">B#</text></g>
<g id="rc04" transform="translate(589,329)"><circle class="b" r="14"/><text class="t" y="6.5">E#</text></g>
<g id="rc05" transform="translate(589,370.2)"><circle class="b" r="14"/><text class="t" y="6.5">A#</text></g>
<g id="rc06" transform="translate(589,411.4)"><circle class="b" r="14"/><text class="t" y="6.5">D#</text></g>
<g id="rc07" transform="translate(589,452.5)"><circle class="b" r="14"/><text class="t" y="6.5">G#</text></g>
<g id="rc08" transform="translate(589,493.7)"><circle class="b" r="14"/><text class="t" y="6.5">C#</text></g>
<g id="rc09" transform="translate(589,534.9)"><circle class="b" r="14"/><text class="t" y="6.5">F#</text></g>
<g id="rc10" transform="translate(589,576)"><circle class="b" r="14"/><text class="t" y="6.5">B</text></g>
<g id="rc11" transform="translate(589,617.2)"><circle class="b" r="14"/><text class="t" y="6.5">E</text></g>
<g id="rc12" transform="translate(589,658.4)"><circle class="b" r="14"/><text class="t" y="6.5">A</text></g>
<g id="rc13" transform="translate(589,699.5)"><circle class="b" r="14"/><text class="t" y="6.5">D</text></g>
<g id="rc14" transform="translate(589,740.7)"><circle class="b" r="14"/><text class="t" y="6.5">G</text></g>
<g id="rc15" transform="translate(589,781.9)"><circle class="b" r="14"/><text class="t" y="6.5">C</text></g>
<g id="rc16" transform="translate(589,823.1)"><circle class="b" r="14"/><text class="t" y="6.5">F</text></g>
<g id="rc17" transform="translate(589,864.2)"><circle class="b" r="14"/><text class="t" y="6.5">B<tspan class="k">b</tspan></text></g>
<g id="rc18" transform="translate(589,905.4)"><circle class="b" r="14"/><text class="t" y="6.5">E<tspan class="k">b</tspan></text></g>
<g id="rc19" transform="translate(589,946.6)"><circle class="b" r="14"/><text class="t" y="6.5">A<tspan class="k">b</tspan></text></g>
<g id="rc20" transform="translate(589,987.7)"><circle class="b" r="14"/><text class="t" y="6.5">D<tspan class="k">b</tspan></text></g>
</g>
</svg>
